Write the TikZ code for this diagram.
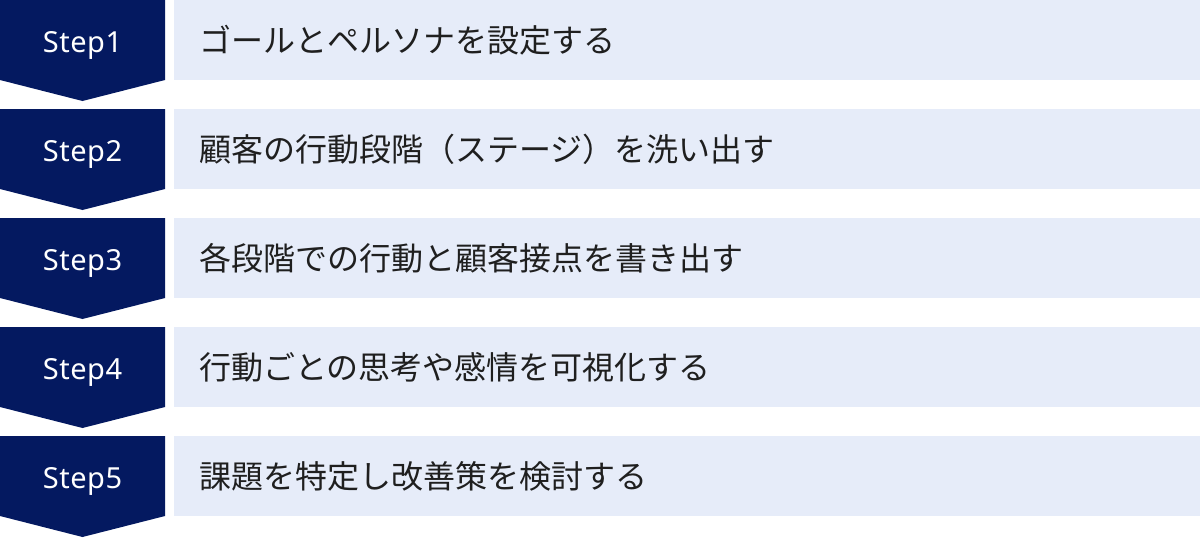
\documentclass[tikz,border=0pt]{standalone}
\usepackage{fontspec}
\newfontfamily\jpfont{Noto Sans CJK JP}
\newfontfamily\stepfont[LetterSpace=2]{Noto Sans}
\usetikzlibrary{positioning}
\definecolor{navy}{RGB}{4,25,96}
\definecolor{paleblue}{RGB}{230,236,249}
\tikzset{steplabel/.style={anchor=base, text=white, inner sep=0pt,
    font=\stepfont\fontsize{29}{29}\selectfont},
  stepbody/.style={anchor=base west, text=black!88, inner sep=0pt,
    font=\jpfont\fontsize{32}{32}\selectfont}}

\begin{document}
\begin{tikzpicture}[x=1pt,y=-1pt]
    \useasboundingbox (0,0) rectangle (1200,538);
    \foreach \i/\txt in {1/ゴールとペルソナを設定する,
                         2/顧客の行動段階（ステージ）を洗い出す,
                         3/各段階での行動と顧客接点を書き出す,
                         4/行動ごとの思考や感情を可視化する,
                         5/課題を特定し改善策を検討する}{
        \pgfmathsetmacro{\rowtop}{109*(\i-1)}
        \fill[navy] (0,\rowtop) -- (165,\rowtop) -- (165,\rowtop+80)
            -- (82.5,\rowtop+101) -- (0,\rowtop+80) -- cycle;
        \fill[paleblue] (174,\rowtop) rectangle (1200,\rowtop+80);
        \node[steplabel] (step\i) at (82.5,\rowtop+52) {Step\i};
        \node[stepbody] (desc\i) at (199,\rowtop+52) {\txt};
    }
\end{tikzpicture}
\end{document}
